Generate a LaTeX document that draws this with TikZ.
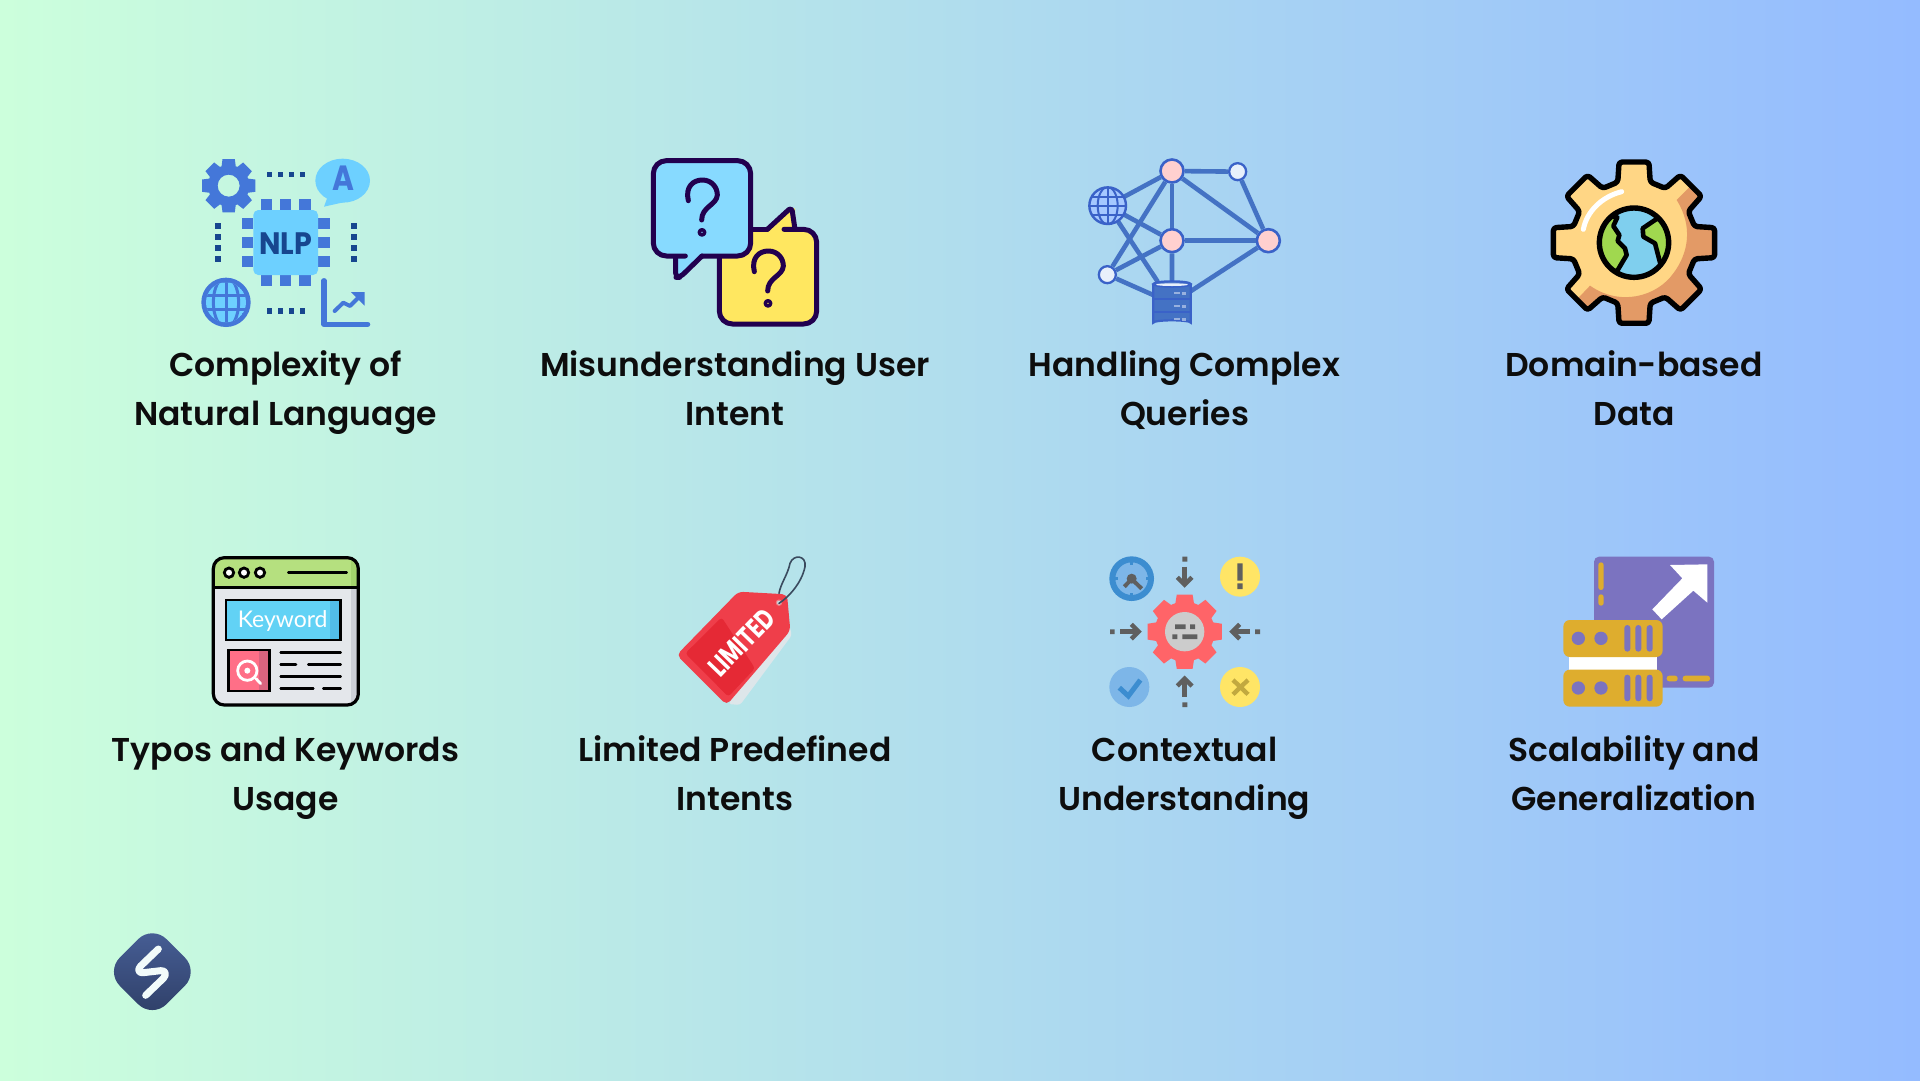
\documentclass[tikz,border=0pt]{standalone}
\usepackage{fontspec}
\setmainfont{Poppins}
\newfontfamily\labfont{Poppins SemiBold}
\newfontfamily\boldfont{Poppins}[UprightFont=* Bold]
\newfontfamily\lato{Lato}
\usetikzlibrary{calc}
\definecolor{bgL}{HTML}{CCFFDC}
\definecolor{bgR}{HTML}{94BBFF}
\definecolor{nblue}{HTML}{4477D9}
\definecolor{nlight}{HTML}{6DD0FF}
\definecolor{ndark}{HTML}{17468F}
\definecolor{qdark}{HTML}{22004F}
\definecolor{qblue}{HTML}{87DAFF}
\definecolor{qyel}{HTML}{FFE760}
\definecolor{netl}{HTML}{4472C4}
\definecolor{nets}{HTML}{3A62C8}
\definecolor{netp}{HTML}{FFD0CF}
\definecolor{netw}{HTML}{E8F0FB}
\definecolor{gearl}{HTML}{FFD685}
\definecolor{geard}{HTML}{E39A66}
\definecolor{earth}{HTML}{7FCFEE}
\definecolor{land}{HTML}{A0D84F}
\definecolor{tagred}{HTML}{EF3E4A}
\definecolor{tagdark}{HTML}{E52935}
\definecolor{cgrey}{HTML}{5F5F5F}
\definecolor{cblue}{HTML}{3C8DD0}
\definecolor{cblue2}{HTML}{7DB6E8}
\definecolor{cyel}{HTML}{FFE566}
\definecolor{cred}{HTML}{FF6468}
\definecolor{purp}{HTML}{7B73C0}
\definecolor{gold}{HTML}{DEAD2E}
\newcommand\gearpts[3]{\gearptsi#1,#2,#3\relax}
\def\gearptsi#1,#2,#3/#4\relax{(-#4:#1) -- (-#3:#2) -- (#3:#2) -- (#4:#1)
  \foreach \ga in {45,90,135,180,225,270,315} { -- (\ga-#4:#1) -- (\ga-#3:#2) -- (\ga+#3:#2) -- (\ga+#4:#1) } -- cycle}
\newcommand\lst{\rule[-12pt]{0pt}{37pt}}
\tikzset{
  x=1pt,y=-1pt,
  icon/.style={shift={(#1)},scale=0.33333},
  lab/.style={font=\labfont\fontsize{33}{49}\selectfont,align=center,text=black!95,inner sep=0pt,anchor=center},
  netline/.style={draw=netl,line width=4.6pt},
  hub/.style={circle,draw=nets,line width=2.6pt,fill=netp,minimum size=23pt,inner sep=0pt},
  leaf/.style={circle,draw=nets,line width=2.3pt,fill=netw,minimum size=17pt,inner sep=0pt},
  tick/.style={line width=2.6pt,line cap=round,draw=black},
  greyline/.style={draw=cgrey,line width=4.4pt},
  greyhead/.style={draw=cgrey,line width=4.4pt,line join=miter},
}
\begin{document}
\begin{tikzpicture}
\useasboundingbox (0,0) rectangle (1920,1080);
\shade[left color=bgL,right color=bgR] (0,0) rectangle (1920,1080);

% labels
\node[lab] (t1) at (285.5,394.5) {\lst Complexity of\\\lst Natural Language};
\node[lab] (t2) at (735,394.5) {\lst Misunderstanding User\\\lst Intent};
\node[lab] (t3) at (1184.5,394.5) {\lst Handling Complex\\\lst Queries};
\node[lab] (t4) at (1634,394.5) {\lst Domain-based\\\lst Data};
\node[lab] (t5) at (285.5,779.5) {\lst Typos and Keywords\\\lst Usage};
\node[lab] (t6) at (735,779.5) {\lst Limited Predefined\\\lst Intents};
\node[lab] (t7) at (1184.5,779.5) {\lst Contextual\\\lst Understanding};
\node[lab] (t8) at (1634,779.5) {\lst Scalability and\\\lst Generalization};

% ---- icon 1: NLP
\begin{scope}[icon={180,140}]
  \begin{scope}[shift={(146,137)}]
    \fill[nblue,even odd rule] \gearpts{62}{82}{13/20} (0,0) circle[radius=33];
  \end{scope}
  \foreach \p in {243,300,358} {
    \fill[nblue] (\p,177) rectangle ++(34,33);
    \fill[nblue] (\p,405) rectangle ++(34,34);
  }
  \foreach \p in {234,291,349} {
    \fill[nblue] (186,\p) rectangle ++(34,33);
    \fill[nblue] (414,\p) rectangle ++(35,33);
  }
  \fill[nlight,rounded corners=5pt] (220,210) rectangle (414,405);
  \node[font=\boldfont\fontsize{31}{31}\selectfont,text=ndark,inner sep=0pt,xscale=0.92] (nlp) at (317,311) {NLP};
  \foreach \p in {268,301,334,367} {
    \fill[ndark] (\p-8,95) rectangle ++(17,17);
    \fill[ndark] (\p-8,504) rectangle ++(17,17);
  }
  \foreach \p in {258,291,324,357} {
    \fill[ndark] (105,\p-8) rectangle ++(17,17);
    \fill[ndark] (513,\p-8) rectangle ++(17,17);
  }
  \fill[nlight] (488,122) ellipse[x radius=82,y radius=66];
  \fill[nlight] (432,200) -- (445,165) -- (490,187) -- cycle;
  \node[font=\boldfont\fontsize{35}{35}\selectfont,text=nblue,inner sep=0pt,xscale=0.85] (aa) at (490,116) {A};
  \begin{scope}
    \fill[nblue] (138,487) circle[radius=74];
    \clip (138,487) circle[radius=60];
    \fill[nlight] (138,487) circle[radius=60];
    \draw[nblue,line width=3pt] (138,410) -- (138,560) (60,465) -- (215,465) (60,508) -- (215,508);
    \draw[nblue,line width=3pt] (138,487) ellipse[x radius=38,y radius=76];
    \draw[nblue,line width=3pt] (65,425) -- (210,425) (65,550) -- (210,550);
  \end{scope}
  \draw[nblue,line width=5.2pt,line cap=round,line join=round] (432,422) -- (432,553) -- (563,553);
  \draw[nblue,line width=4pt,line cap=round,line join=round] (464,513) -- (490,488) -- (510,498) -- (540,468);
  \fill[nblue] (513,456) -- (554,456) -- (554,497) -- cycle;
\end{scope}

% ---- icon 2: questions
\begin{scope}[icon={630,140},line width=5pt,line cap=round,line join=round]
  \fill[qyel,rounded corners=13pt] (268,268) rectangle (560,552);
  \fill[qyel] (410,270) -- (480,205) -- (495,205) -- (495,270) -- cycle;
  \draw[qdark,rounded corners=13pt] (462,268) -- (560,268) -- (560,552) -- (268,552) -- (268,340);
  \draw[qdark] (368,268) -- (412,268);
  \draw[qdark,rounded corners=4pt] (412,268) -- (485,201) -- (495,268);
  \fill[qblue,rounded corners=13pt] (70,62) rectangle (362,348);
  \fill[qblue] (137,345) -- (137,405) -- (150,412) -- (218,345) -- cycle;
  \draw[qdark,rounded corners=13pt] (166,348) -- (70,348) -- (70,62) -- (362,62) -- (362,348) -- (216,348);
  \draw[qdark,rounded corners=4pt] (137,350) -- (137,412) -- (150,412) -- (216,348);
  \foreach \dx/\dy in {0/0,198/213} {
    \begin{scope}[shift={(\dx,\dy)}]
      \draw[qdark] (175,182) .. controls (165,140) and (190,120) .. (217,120) .. controls (245,120) and (262,142) .. (262,165) .. controls (260,195) and (215,200) .. (215,240);
      \draw[qdark,line width=3.5pt] (216,277) circle[radius=8];
    \end{scope}
  }
\end{scope}

% ---- icon 3: network
\begin{scope}[icon={1070,140}]
  \node[hub] (na) at (306,93) {};
  \node[leaf] (nb) at (503,95) {};
  \node[hub] (nc) at (595,302) {};
  \node[hub] (nd) at (306,302) {};
  \node[leaf] (ne) at (112,404) {};
  \node[circle,minimum size=36pt,inner sep=0pt] (ng) at (113,197) {};
  \node[rectangle,minimum width=37pt,minimum height=43pt,inner sep=0pt] (ndb) at (306,490) {};
  \foreach \u/\v in {na/nb,na/nc,na/ng,na/nd,na/ne,nb/nc,nd/nc,nd/ng,nd/ne,nd/ndb,ng/ndb,ne/ndb,nc/ndb}
    \draw[netline] (\u) -- (\v);
  \draw[nets,line width=2.2pt,fill=netl] (250,432) -- (250,548) arc[start angle=180,end angle=360,x radius=56,y radius=7] -- (362,432);
  \draw[nets,line width=2.2pt,fill=netl!90!white] (306,432) ellipse[x radius=56,y radius=8];
  \fill[netw] (306,434) ellipse[x radius=48,y radius=4];
  \foreach \yy in {476,515} \draw[nets,line width=2pt] (250,\yy) -- (362,\yy);
  \foreach \yy in {460,499,538} {\fill[netl!55!white] (335,\yy-4) rectangle ++(14,8); \fill[netl!55!white] (313,\yy-3) rectangle ++(16,6);}
  \begin{scope}
    \fill[fill={rgb,255:red,165;green,200;blue,255}] (113,197) circle[radius=54];
    \clip (113,197) circle[radius=54];
    \draw[nets,line width=2pt] (113,140) -- (113,255) (58,197) -- (168,197) (65,170) -- (160,170) (65,224) -- (160,224);
    \draw[nets,line width=2pt] (113,197) ellipse[x radius=30,y radius=56];
  \end{scope}
  \draw[nets,line width=2.4pt] (113,197) circle[radius=55];
\end{scope}

% ---- icon 4: domain gear
\begin{scope}[icon={1530,140}]
  \begin{scope}
    \begin{scope}[shift={(312,308)}]
      \clip[rounded corners=3pt] \gearpts{188}{246}{10.5/15};
      \fill[gearl] (-300,-300) rectangle (300,300);
    \end{scope}
    \begin{scope}
      \clip[shift={(312,308)},rounded corners=3pt] \gearpts{188}{246}{10.5/15};
      \fill[geard] (120,500) -- (180,437) .. controls (270,500) and (380,470) .. (430,400) .. controls (475,340) and (490,260) .. (440,180) -- (500,120) -- (700,120) -- (700,700) -- (120,700) -- cycle;
    \end{scope}
    \draw[shift={(312,308)},black,line width=5.4pt,line join=round,rounded corners=3pt] \gearpts{188}{246}{10.5/15};
  \end{scope}
  \draw[white,line width=5pt,line cap=round] (275,155) .. controls (215,170) and (170,215) .. (160,268);
  \fill[earth] (312,308) circle[radius=104];
  \begin{scope}
    \clip (312,308) circle[radius=104];
    \draw[black,line width=4.6pt,fill=land,line join=round] (262,232) -- (250,258) -- (268,285) -- (263,303) -- (285,325) -- (290,345) -- (262,392) -- (180,400) -- (180,220) -- cycle;
    \draw[black,line width=4.6pt,fill=land,line join=round] (378,238) -- (338,265) -- (340,290) -- (375,310) -- (392,375) -- (440,380) -- (440,220) -- cycle;
  \end{scope}
  \draw[black,line width=5.4pt] (312,308) circle[radius=104];
\end{scope}

% ---- icon 5: keyword window
\begin{scope}[icon={190,540}]
  \begin{scope}
    \clip[rounded corners=11pt] (70,53) rectangle (505,495);
    \fill[fill={rgb,255:red,228;green,231;blue,235}] (70,53) rectangle (505,495);
    \fill[fill={rgb,255:red,205;green,208;blue,216}] (482,142) rectangle (505,495);
    \fill[fill={rgb,255:red,181;green,224;blue,127}] (70,53) rectangle (505,142);
    \fill[fill={rgb,255:red,163;green,210;blue,109}] (482,53) rectangle (505,142);
  \end{scope}
  \draw[black,line width=3.2pt,rounded corners=11pt] (70,53) rectangle (505,495);
  \draw[black,line width=3.2pt] (70,142) -- (505,142);
  \foreach \p in {117,162,210}
    \draw[black,line width=2.8pt,fill=white] (\p,98) circle[radius=14];
  \draw[tick] (295,98) -- (470,98);
  \fill[fill={rgb,255:red,98;green,210;blue,245}] (108,180) rectangle (452,300);
  \fill[fill={rgb,255:red,82;green,188;blue,233}] (420,180) rectangle (452,300);
  \draw[black,line width=2.8pt] (108,180) rectangle (452,300);
  \node[font=\lato\fontsize{23}{24}\selectfont,text=white,inner sep=0pt] (kw) at (278,243) {Keyword};
  \fill[fill={rgb,255:red,255;green,111;blue,135}] (115,330) rectangle (238,453);
  \fill[fill={rgb,255:red,217;green,100;blue,127}] (207,330) rectangle (238,453);
  \draw[black,line width=2.4pt] (115,330) rectangle (238,453);
  \draw[white,line width=2.8pt] (172,392) circle[radius=29];
  \fill[white] (172,392) circle[radius=9];
  \draw[white,line width=2.8pt,line cap=round] (198,416) -- (212,431);
  \draw[tick] (272,338) -- (452,338);
  \draw[tick] (272,374) -- (318,374) (355,374) -- (452,374);
  \draw[tick] (272,410) -- (452,410);
  \draw[tick] (272,446) -- (370,446) (400,446) -- (452,446);
\end{scope}

% ---- icon 6: tag
\begin{scope}[icon={660,540}]
  \fill[fill={rgb,255:red,221;green,230;blue,234},rounded corners=3pt] (380,230) -- (396,285) -- (240,495) -- (205,492) -- cycle;
  \fill[tagred,rounded corners=5pt] (50,345) -- (235,155) -- (381,163) -- (391,272) -- (200,495) -- cycle;
  \fill[tagdark,rounded corners=3pt] (76,340) -- (185,232) -- (285,385) -- (205,470) -- cycle;
  \node[font=\boldfont\fontsize{28}{28}\selectfont,text=white,inner sep=0pt,rotate=46,xscale=0.75] (lim) at (245,308) {LIMITED};
  \draw[fill={rgb,255:red,200;green,220;blue,225},draw=tagdark!60!white,line width=1pt] (357,188) circle[radius=8];
  \draw[draw={rgb,255:red,58;green,74;blue,94},line width=1.6pt,line cap=round] (357,190) .. controls (385,172) and (425,130) .. (435,80) .. controls (440,45) and (400,42) .. (390,70) .. controls (383,105) and (362,130) .. (357,160);
\end{scope}

% ---- icon 7: context
\begin{scope}[icon={1095,540}]
  \fill[cblue2] (110,116) circle[radius=60];
  \draw[cblue,line width=6pt] (110,116) circle[radius=58];
  \foreach \a in {0,90,180,270} \draw[cblue,line width=3.5pt] ($(110,116)+(\a:58)$) -- ($(110,116)+(\a:42)$);
  \draw[cgrey,line width=4pt] (88,140) -- (110,117) -- (140,146);
  \fill[cgrey] (110,116) circle[radius=15];
  \fill[cyel] (435,110) circle[radius=60];
  \fill[cgrey] (427,70) rectangle (443,122) (427,130) rectangle (443,147);
  \fill[cblue2] (103,441) circle[radius=60];
  \draw[cblue,line width=5pt] (73,443) -- (100,468) -- (136,420);
  \fill[cyel] (435,441) circle[radius=60];
  \draw[fill=none,draw={rgb,255:red,194;green,169;blue,63},line width=4.4pt] (414,420) -- (459,463) (459,420) -- (414,463);
  \begin{scope}[shift={(269,275)}]
    \fill[cred] \gearpts{90}{114}{12/18};
    \fill[fill={rgb,255:red,204;green,204;blue,204}] (0,0) circle[radius=59];
  \end{scope}
  \fill[cgrey] (240,253) rectangle (272,267) (285,253) rectangle (300,267) (232,283) rectangle (247,297) (262,283) rectangle (307,297);
  % arrows
  \fill[cgrey] (262,50) rectangle (277,65) (45,268) rectangle (59,282) (480,268) rectangle (495,282) (262,487) rectangle (277,501);
  \draw[greyline] (269,80) -- (269,128) (75,275) -- (125,275) (418,275) -- (465,275) (269,420) -- (269,470);
  \draw[greyhead] (247,112) -- (269,134) -- (291,112);
  \draw[greyhead] (109,253) -- (131,275) -- (109,297);
  \draw[greyhead] (434,253) -- (412,275) -- (434,297);
  \draw[greyhead] (247,438) -- (269,416) -- (291,438);
\end{scope}

% ---- icon 8: scalability
\begin{scope}[icon={1545,540}]
  \fill[purp,rounded corners=5pt] (147,50) rectangle (507,443);
  \fill[white] (375,75) -- (487,73) -- (487,188) -- (445,152) -- (350,238) -- (322,208) -- (412,115) -- cycle;
  \fill[gold,rounded corners=2.6pt] (160,67) rectangle (176,150);
  \fill[gold,rounded corners=2.6pt] (160,163) rectangle (176,197);
  \fill[gold,rounded corners=2.6pt] (365,407) rectangle (398,424);
  \fill[gold,rounded corners=2.6pt] (413,407) rectangle (495,424);
  \fill[white] (72,345) rectangle (335,395);
  \foreach \yy in {240,389} {
    \fill[gold,rounded corners=6.5pt] (55,\yy) rectangle (353,\yy+111);
    \fill[purp] (100,\yy+55) circle[radius=20];
    \fill[purp] (168,\yy+55) circle[radius=20];
    \foreach \xx in {238,271,305}
      \fill[purp,rounded corners=3pt] (\xx,\yy+15) rectangle (\xx+18,\yy+95);
  }
\end{scope}

% ---- logo
\begin{scope}[icon={100,920}]
  \shade[top color={rgb,255:red,72;green,96;blue,152},bottom color={rgb,255:red,46;green,62;blue,102},rounded corners=20pt] (157,15) -- (297,155) -- (157,295) -- (17,155) -- cycle;
  \draw[draw={rgb,255:red,242;green,251;blue,250},line width=7pt,line cap=round,line join=round] (175,87) -- (122,138) .. controls (110,150) and (118,160) .. (130,158) -- (182,152) .. controls (198,150) and (200,165) .. (190,175) -- (137,226);
\end{scope}
\end{tikzpicture}
\end{document}
